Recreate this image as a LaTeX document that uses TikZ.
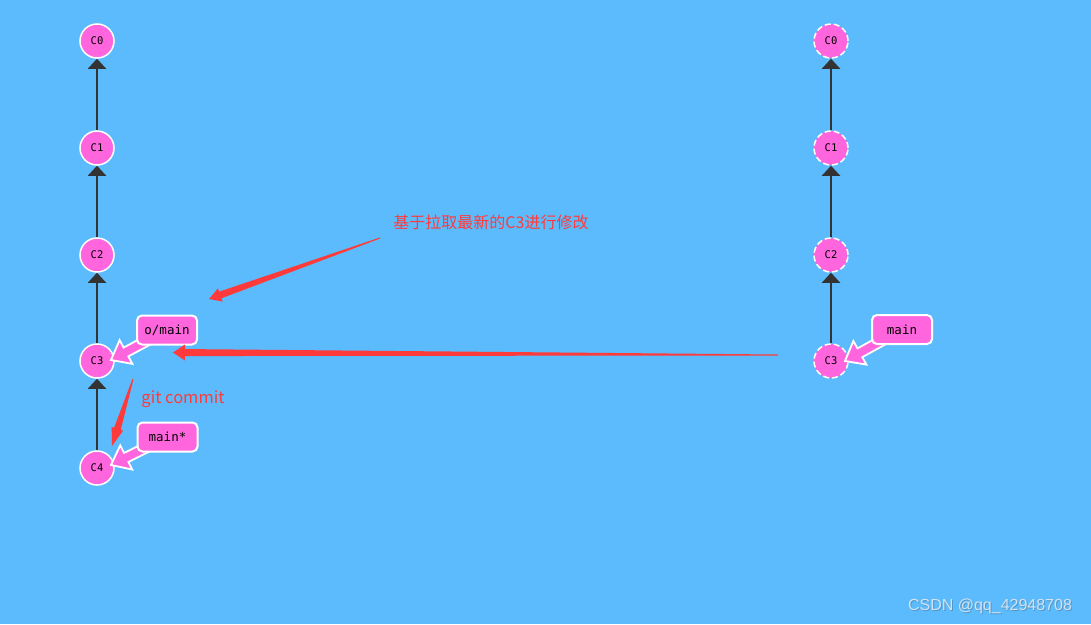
\documentclass[tikz,border=0pt]{standalone}
\usepackage{fontspec}
\newfontfamily\cjk{Noto Sans CJK SC}
\newfontfamily\mono{DejaVu Sans Mono}
\newfontfamily\wmfont{Liberation Sans}
\usetikzlibrary{calc,arrows.meta}
\definecolor{bg}{HTML}{5CBBFC}
\definecolor{pinkc}{HTML}{FF66DD}
\definecolor{redc}{HTML}{FF3A3A}
\definecolor{edgec}{HTML}{333333}
\definecolor{wmc}{HTML}{D2E2F0}
\definecolor{wmshadow}{HTML}{4A7FA8}
\tikzset{
  commit/.style={circle, fill=pinkc, draw=white, line width=1.5pt, minimum size=34pt, inner sep=0pt, font=\mono\fontsize{10.5}{10.5}\selectfont},
  ghost/.style={commit, dash pattern=on 6pt off 3pt},
  branch/.style={rectangle, rounded corners=5pt, fill=pinkc, draw=white, line width=2pt, minimum width=60pt, minimum height=29pt, inner sep=0pt, font=\mono\fontsize{12.5}{12.5}\selectfont},
  parent/.style={draw=edgec, line width=2pt, -{Triangle[width=18pt,length=10pt]}},
  note/.style={text=redc, inner sep=0pt},
}
\newcommand\brarrow[2]{%
  \coordinate (ba) at (#1); \coordinate (bb) at (#2);
  \coordinate (bh) at ($(bb)!17pt!(ba)$);
  \filldraw[fill=pinkc, draw=white, line width=1.8pt, line join=miter]
    ($(ba)!5pt!90:(bb)$) -- ($(bh)!5pt!-90:(ba)$) -- ($(bh)!13.5pt!-90:(ba)$) -- (bb)
    -- ($(bh)!13.5pt!90:(ba)$) -- ($(bh)!5pt!90:(ba)$) -- ($(ba)!5pt!-90:(bb)$) -- cycle;}
\newcommand\redarrow[4]{%
  \coordinate (ra) at (#1); \coordinate (rb) at (#2);
  \coordinate (rh) at ($(rb)!#3!(ra)$);
  \fill[redc] ($(ra)!0.5pt!90:(rb)$) -- ($(rh)!3.5pt!-90:(ra)$) -- ($(rh)!#4!-90:(ra)$) -- (rb)
    -- ($(rh)!#4!90:(ra)$) -- ($(rh)!3.5pt!90:(ra)$) -- ($(ra)!0.5pt!-90:(rb)$) -- cycle;}
\begin{document}
\begin{tikzpicture}[x=1pt,y=-1pt]
\fill[bg] (0,0) rectangle (1091,624);
\useasboundingbox (0,0) rectangle (1091,624);
% left commits
\node[commit] (c0) at (97,41) {C0};
\node[commit] (c1) at (97,148) {C1};
\node[commit] (c2) at (97,255) {C2};
\node[commit] (c3) at (97,361) {C3};
\node[commit] (c4) at (97,468) {C4};
\draw[parent] (c1) -- (c0);
\draw[parent] (c2) -- (c1);
\draw[parent] (c3) -- (c2);
\draw[parent] (c4) -- (c3);
% right commits
\node[ghost] (r0) at (831,41) {C0};
\node[ghost] (r1) at (831,148) {C1};
\node[ghost] (r2) at (831,255) {C2};
\node[ghost] (r3) at (831,361) {C3};
\draw[parent] (r1) -- (r0);
\draw[parent] (r2) -- (r1);
\draw[parent] (r3) -- (r2);
% branch labels
\coordinate (omainc) at (167,330);
\coordinate (mainsc) at (167.5,437);
\coordinate (mainrc) at (902,329.5);
\brarrow{omainc}{$(c3.center)+(14,-1)$}
\brarrow{mainsc}{$(c4.center)+(14,-3)$}
\brarrow{mainrc}{$(r3.center)+(14,0)$}
\node[branch] (omain) at (omainc) {o/main};
\node[branch] (mains) at (mainsc) {main*};
\node[branch] (mainr) at (mainrc) {main};
% annotations
\node[note, font=\cjk\fontsize{16}{16}\selectfont] (t1) at (491,222) {基于拉取最新的C3进行修改};
\node[note, font=\cjk\fontsize{16.5}{16.5}\selectfont] (t2) at (183,399) {git commit};
\coordinate (a1s) at (380,238);
\coordinate (a1e) at (209,299);
\coordinate (a2s) at (778,355);
\coordinate (a2e) at (173,352.5);
\coordinate (a3s) at (133,379);
\coordinate (a3e) at (112,446);
\redarrow{a1s}{a1e}{12pt}{7pt}
\redarrow{a2s}{a2e}{12pt}{8pt}
\redarrow{a3s}{a3e}{18pt}{6pt}
% watermark
\node[text=wmshadow, opacity=0.6, font=\wmfont\fontsize{16}{16}\selectfont] at (991,607) {CSDN @qq\_42948708};
\node[text=wmc, font=\wmfont\fontsize{16}{16}\selectfont] (wm) at (990,606) {CSDN @qq\_42948708};
\end{tikzpicture}
\end{document}
